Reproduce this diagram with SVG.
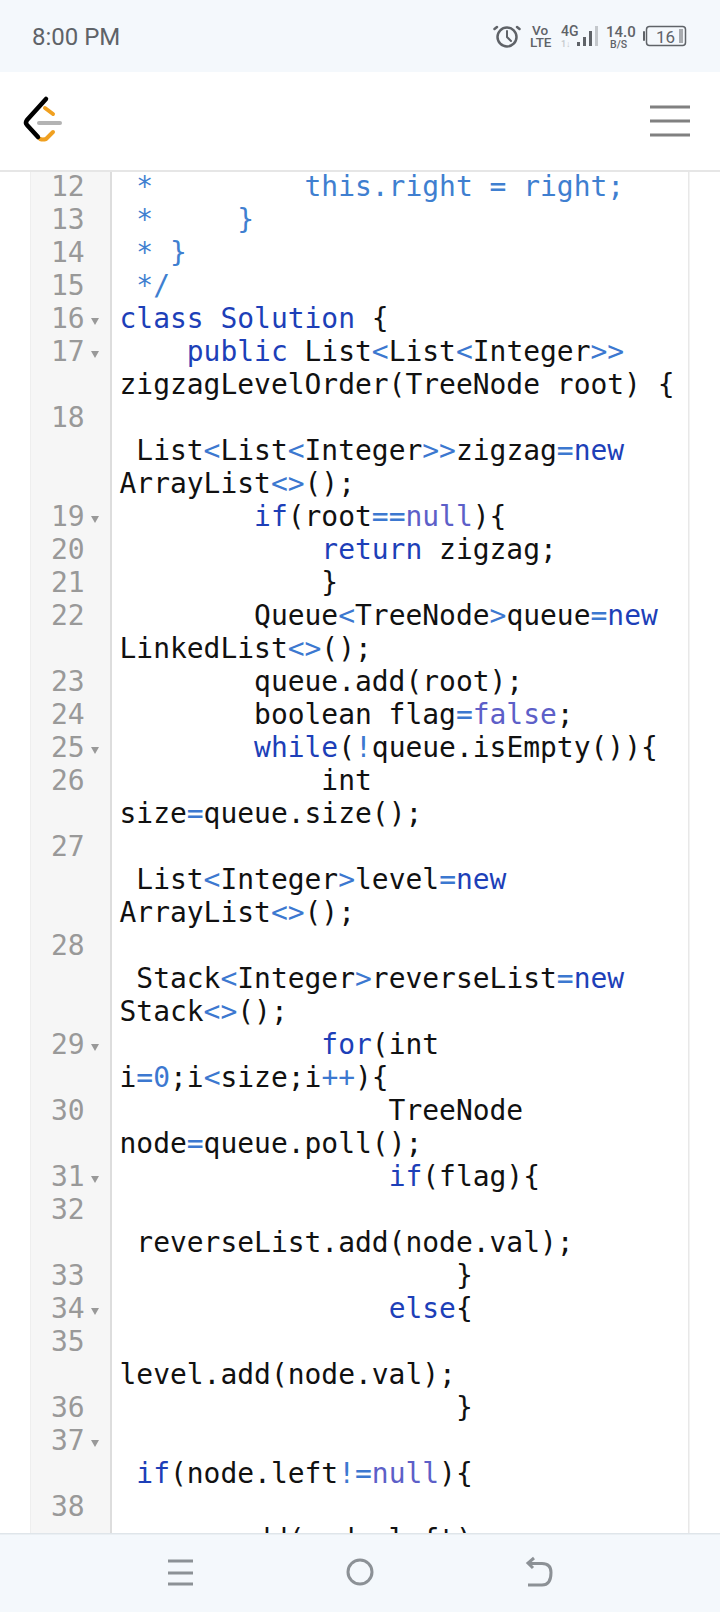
<svg xmlns="http://www.w3.org/2000/svg" width="720" height="1612" viewBox="0 0 720 1612">
<style>
.c{font-family:"DejaVu Sans Mono",monospace;font-size:27.950px;fill:#111;white-space:pre}
.k{fill:#1d3fb8}.o{fill:#3c78d0}.m{fill:#3f7fd0}.n{fill:#5d5fc8}
.g{font-family:"DejaVu Sans Mono",monospace;font-size:28px;fill:#999}
.s{font-family:Roboto,sans-serif;fill:#5f6368;font-weight:500}
.f{fill:#999}
</style>
<defs><clipPath id="cl"><rect x="0" y="172" width="720" height="1361"/></clipPath></defs>
<rect width="720" height="1612" fill="#fff"/>
<g id="editor" clip-path="url(#cl)">
<rect x="31" y="171" width="80" height="1362" fill="#f6f6f6"/>
<rect x="30" y="171" width="1" height="1362" fill="#eee"/>
<rect x="110" y="171" width="2" height="1362" fill="#ddd"/>
<rect x="688" y="171" width="1.500" height="1362" fill="#e8e8e8"/>
<g id="gutter" transform="translate(0 1)">
<text class="g" x="51" y="195">12</text><text class="g" x="51" y="228">13</text><text class="g" x="51" y="261">14</text><text class="g" x="51" y="294">15</text><text class="g" x="51" y="327">16</text><text class="g" x="51" y="360">17</text><text class="g" x="51" y="426">18</text><text class="g" x="51" y="525">19</text><text class="g" x="51" y="558">20</text><text class="g" x="51" y="591">21</text><text class="g" x="51" y="624">22</text><text class="g" x="51" y="690">23</text><text class="g" x="51" y="723">24</text><text class="g" x="51" y="756">25</text><text class="g" x="51" y="789">26</text><text class="g" x="51" y="855">27</text><text class="g" x="51" y="954">28</text><text class="g" x="51" y="1053">29</text><text class="g" x="51" y="1119">30</text><text class="g" x="51" y="1185">31</text><text class="g" x="51" y="1218">32</text><text class="g" x="51" y="1284">33</text><text class="g" x="51" y="1317">34</text><text class="g" x="51" y="1350">35</text><text class="g" x="51" y="1416">36</text><text class="g" x="51" y="1449">37</text><text class="g" x="51" y="1515">38</text>
<path class="f" d="M91 317h8l-4 7zM91 350h8l-4 7zM91 515h8l-4 7zM91 746h8l-4 7zM91 1043h8l-4 7zM91 1175h8l-4 7zM91 1307h8l-4 7zM91 1439h8l-4 7z"/>
</g>
<g id="code" transform="translate(-1.500 1)">
<text class="c" x="121" y="195"><tspan class="m"> *         this.right = right;</tspan></text>
<text class="c" x="121" y="228"><tspan class="m"> *     }</tspan></text>
<text class="c" x="121" y="261"><tspan class="m"> * }</tspan></text>
<text class="c" x="121" y="294"><tspan class="m"> */</tspan></text>
<text class="c" x="121" y="327"><tspan class="k">class</tspan> <tspan class="k">Solution</tspan> {</text>
<text class="c" x="121" y="360">    <tspan class="k">public</tspan> List<tspan class="o">&lt;</tspan>List<tspan class="o">&lt;</tspan>Integer<tspan class="o">&gt;&gt;</tspan></text>
<text class="c" x="121" y="393">zigzagLevelOrder(TreeNode root) {</text>
<text class="c" x="121" y="459"> List<tspan class="o">&lt;</tspan>List<tspan class="o">&lt;</tspan>Integer<tspan class="o">&gt;&gt;</tspan>zigzag<tspan class="o">=</tspan><tspan class="k">new</tspan></text>
<text class="c" x="121" y="492">ArrayList<tspan class="o">&lt;&gt;</tspan>();</text>
<text class="c" x="121" y="525">        <tspan class="k">if</tspan>(root<tspan class="o">==</tspan><tspan class="n">null</tspan>){</text>
<text class="c" x="121" y="558">            <tspan class="k">return</tspan> zigzag;</text>
<text class="c" x="121" y="591">            }</text>
<text class="c" x="121" y="624">        Queue<tspan class="o">&lt;</tspan>TreeNode<tspan class="o">&gt;</tspan>queue<tspan class="o">=</tspan><tspan class="k">new</tspan></text>
<text class="c" x="121" y="657">LinkedList<tspan class="o">&lt;&gt;</tspan>();</text>
<text class="c" x="121" y="690">        queue.add(root);</text>
<text class="c" x="121" y="723">        boolean flag<tspan class="o">=</tspan><tspan class="n">false</tspan>;</text>
<text class="c" x="121" y="756">        <tspan class="k">while</tspan>(<tspan class="o">!</tspan>queue.isEmpty()){</text>
<text class="c" x="121" y="789">            int</text>
<text class="c" x="121" y="822">size<tspan class="o">=</tspan>queue.size();</text>
<text class="c" x="121" y="888"> List<tspan class="o">&lt;</tspan>Integer<tspan class="o">&gt;</tspan>level<tspan class="o">=</tspan><tspan class="k">new</tspan></text>
<text class="c" x="121" y="921">ArrayList<tspan class="o">&lt;&gt;</tspan>();</text>
<text class="c" x="121" y="987"> Stack<tspan class="o">&lt;</tspan>Integer<tspan class="o">&gt;</tspan>reverseList<tspan class="o">=</tspan><tspan class="k">new</tspan></text>
<text class="c" x="121" y="1020">Stack<tspan class="o">&lt;&gt;</tspan>();</text>
<text class="c" x="121" y="1053">            <tspan class="k">for</tspan>(int</text>
<text class="c" x="121" y="1086">i<tspan class="o">=</tspan><tspan class="o">0</tspan>;i<tspan class="o">&lt;</tspan>size;i<tspan class="o">++</tspan>){</text>
<text class="c" x="121" y="1119">                TreeNode</text>
<text class="c" x="121" y="1152">node<tspan class="o">=</tspan>queue.poll();</text>
<text class="c" x="121" y="1185">                <tspan class="k">if</tspan>(flag){</text>
<text class="c" x="121" y="1251"> reverseList.add(node.val);</text>
<text class="c" x="121" y="1284">                    }</text>
<text class="c" x="121" y="1317">                <tspan class="k">else</tspan>{</text>
<text class="c" x="121" y="1383">level.add(node.val);</text>
<text class="c" x="121" y="1416">                    }</text>
<text class="c" x="121" y="1482"> <tspan class="k">if</tspan>(node.left<tspan class="o">!=</tspan><tspan class="n">null</tspan>){</text>
<text class="c" x="121" y="1548"> queue.add(node.left);</text>
</g>
</g>
<g id="status-bar">
<rect width="720" height="72" fill="#f4f8fc"/>
<text class="s" x="32" y="45" font-size="24" style="font-weight:400">8:00 PM</text>
<g fill="none" stroke="#5f6368" stroke-linecap="round">
<circle cx="507" cy="37" r="9.500" stroke-width="2.500"/>
<path d="M507 31v6l4 4" stroke-width="2"/>
<path d="M497 27l-2.500 2M517 27l2.500 2" stroke-width="2.500"/>
</g>
<text class="s" font-size="13.500"><tspan x="532" y="35">Vo</tspan><tspan x="530" y="47">LTE</tspan></text>
<text class="s" font-size="14"><tspan x="561" y="36">4G</tspan><tspan x="561" y="47" font-size="9" style="fill:#c4c8cc">1↓</tspan></text>
<path fill="#5f6368" d="M577 42h3v4h-3zM583 37h3v9h-3zM589 31h3v15h-3z"/>
<rect x="595" y="26" width="3" height="20" fill="#c4c8cc"/>
<text class="s" font-size="15"><tspan x="606" y="37">14.0</tspan><tspan x="610" y="47.500" font-size="10.500">B/S</tspan></text>
<rect x="646.500" y="26.500" width="39" height="19" rx="3" fill="none" stroke="#5f6368" stroke-width="1.500"/>
<rect x="643" y="31" width="2" height="10" rx="1" fill="#5f6368"/>
<rect x="679" y="29" width="4" height="14" fill="#a8abaf"/>
<text x="656" y="43" font-family="Roboto,sans-serif" font-size="17" fill="#5f6368">16</text>
</g>
<g id="header">
<rect y="72" width="720" height="99" fill="#fff"/>
<rect y="170" width="720" height="2" fill="#e6e6e6"/>
<g id="logo" fill="none" stroke-linecap="round" stroke-linejoin="round">
<path d="M45 108l8 6M40 139q3 1 6 0l7-7" stroke="#f0a020" stroke-width="4"/>
<path d="M39 123h21" stroke="#b3b3b3" stroke-width="4"/>
<path d="M46 99L27 120q-2 3 0 5l11 12" stroke="#000" stroke-width="4.500"/>
</g>
<path id="menu" d="M650 107h40M650 121h40M650 135h40" stroke="#808080" stroke-width="3" fill="none"/>
</g>
<g id="nav-bar">
<rect y="1533" width="720" height="79" fill="#f4f8fc"/>
<rect y="1533" width="720" height="1.500" fill="#dfe5ea"/>
<path d="M168 1561h25M168 1573h25M168 1584h25" stroke="#8c9196" stroke-width="3" fill="none"/>
<circle cx="360" cy="1572" r="12" fill="none" stroke="#8c9196" stroke-width="3"/>
<path d="M528 1585h14q9 0 9-12.500q0-9-9-9h-13M534 1558l-6 5 5 5" fill="none" stroke="#8c9196" stroke-width="3"/>
</g>
</svg>
